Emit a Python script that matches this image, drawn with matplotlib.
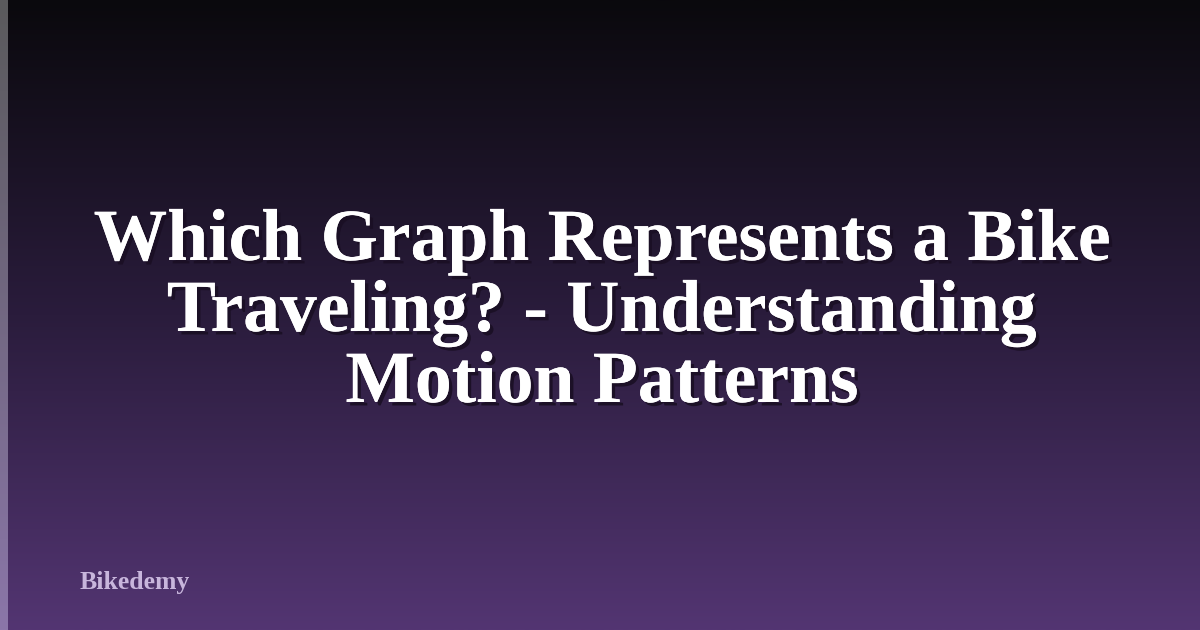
import numpy as np
import matplotlib
matplotlib.use("Agg")
import matplotlib.pyplot as plt
import matplotlib.patheffects as pe
from matplotlib.colors import LinearSegmentedColormap

# text of the card
title_lines = ["Which Graph Represents a Bike",
               "Traveling? - Understanding",
               "Motion Patterns"]
brand = "Bikedemy"

W, H = 1200, 630
fig = plt.figure(figsize=(W / 100, H / 100), dpi=100)
ax = fig.add_axes([0, 0, 1, 1])
ax.set_xlim(0, W)
ax.set_ylim(H, 0)
ax.axis("off")

# background gradient, dark top to purple bottom
bg = LinearSegmentedColormap.from_list("bg", ["#0a090d", "#2a1c3c", "#533572"])
grad = np.linspace(0, 1, 256).reshape(-1, 1)
ax.imshow(grad, cmap=bg, aspect="auto", extent=[0, W, H, 0])

# thin bar on the left edge
bar = LinearSegmentedColormap.from_list("bar", ["#5a5a5c", "#8b76a9"])
ax.imshow(grad, cmap=bar, aspect="auto", extent=[0, 8, H, 0])

shadow = [pe.withSimplePatchShadow(offset=(2.5, -2.5), shadow_rgbFace="#1a0f24", alpha=0.9),
          pe.Normal()]

baselines = [260, 331, 402]
for line, y in zip(title_lines, baselines):
    ax.text(602, y, line, ha="center", va="baseline", color="white",
            fontsize=53, fontweight="bold", family="Liberation Serif",
            path_effects=shadow)

ax.text(80, 589, brand, ha="left", va="baseline", color="#c8b6dc",
        fontsize=18.5, fontweight="bold", family="Liberation Serif")

fig.savefig("out.png", dpi=100)
